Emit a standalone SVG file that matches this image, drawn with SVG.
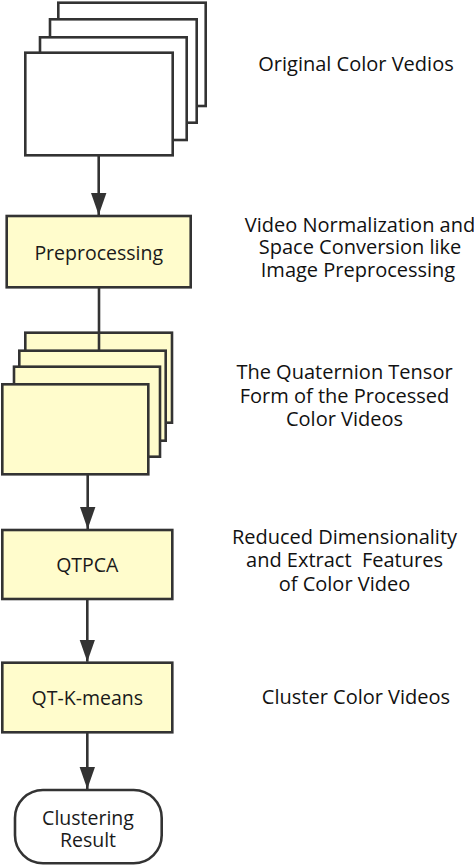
<svg xmlns="http://www.w3.org/2000/svg" width="474" height="867" viewBox="0 0 474 867">
<defs>
<style>
.box{fill:#ffffff;stroke:#333333;stroke-width:2.6}
.yel{fill:#fffccc;stroke:#333333;stroke-width:2.6}
.lbl{font-family:"Open Sans","Noto Sans",sans-serif;font-size:19.5px;fill:#1a1a1a;text-anchor:middle}
.side{font-family:"Open Sans","Noto Sans",sans-serif;font-size:20px;fill:#111111;text-anchor:middle;white-space:pre}
.conn{stroke:#333333;stroke-width:2.6;fill:none}
</style>
<marker id="arr" markerUnits="userSpaceOnUse" markerWidth="22" markerHeight="16" viewBox="0 0 20 14" refX="20" refY="7" orient="auto">
<path d="M0,0 L20,7 L0,14 Z" fill="#333333"/>
</marker>
</defs>
<g id="original-videos">
<rect class="box" x="58.3" y="2.7" width="147.4" height="103.3"/>
<rect class="box" x="50" y="19.3" width="146.7" height="103.4"/>
<rect class="box" x="40" y="37.3" width="146.7" height="102.7"/>
<rect class="box" x="25.3" y="52.7" width="147.4" height="102.6"/>
</g>
<g id="preprocessing">
<rect class="yel" x="6.7" y="216" width="184" height="71.3"/>
<text class="lbl" x="98.7" y="260">Preprocessing</text>
</g>
<g id="quaternion-tensor">
<rect class="yel" x="25.3" y="332.7" width="146.7" height="90"/>
<rect class="yel" x="19.3" y="350.7" width="146.4" height="90"/>
<rect class="yel" x="14" y="366.7" width="146" height="90"/>
<rect class="yel" x="2.3" y="384.3" width="146" height="90"/>
</g>
<g id="qtpca">
<rect class="yel" x="2.3" y="530" width="170" height="69"/>
<text class="lbl" x="87.3" y="572">QTPCA</text>
</g>
<g id="qt-k-means">
<rect class="yel" x="2.3" y="662.7" width="170" height="69.6"/>
<text class="lbl" x="87.3" y="705">QT-K-means</text>
</g>
<g id="clustering-result">
<rect class="box" x="15" y="790" width="146.7" height="73.3" rx="28" ry="28"/>
<text class="lbl" x="88" y="825"><tspan x="88" y="825">Clustering</tspan><tspan x="88" y="846.7">Result</tspan></text>
</g>
<g id="side-labels">
<text class="side" x="356" y="71">Original Color Vedios</text>
<text class="side"><tspan x="360" y="231.7">Video Normalization and</tspan><tspan x="360" y="254.3">Space Conversion like</tspan><tspan x="358" y="276.7">Image Preprocessing</tspan></text>
<text class="side"><tspan x="344.5" y="379.3">The Quaternion Tensor</tspan><tspan x="344.5" y="402.7">Form of the Processed</tspan><tspan x="344.5" y="425.7">Color Videos</tspan></text>
<text class="side"><tspan x="344.5" y="544.3">Reduced Dimensionality</tspan><tspan x="344.5" y="567.3">and Extract  Features</tspan><tspan x="344.5" y="590.7">of Color Video</tspan></text>
<text class="side" x="356" y="704.3">Cluster Color Videos</text>
</g>
<g id="connectors">
<line class="conn" x1="98.7" y1="155.3" x2="98.7" y2="215" marker-end="url(#arr)"/>
<line class="conn" x1="99" y1="287.3" x2="99" y2="350.7"/>
<line class="conn" x1="87.7" y1="474.3" x2="87.7" y2="529" marker-end="url(#arr)"/>
<line class="conn" x1="87.3" y1="599" x2="87.3" y2="661.7" marker-end="url(#arr)"/>
<line class="conn" x1="87.3" y1="732.3" x2="87.3" y2="789" marker-end="url(#arr)"/>
</g>
</svg>
